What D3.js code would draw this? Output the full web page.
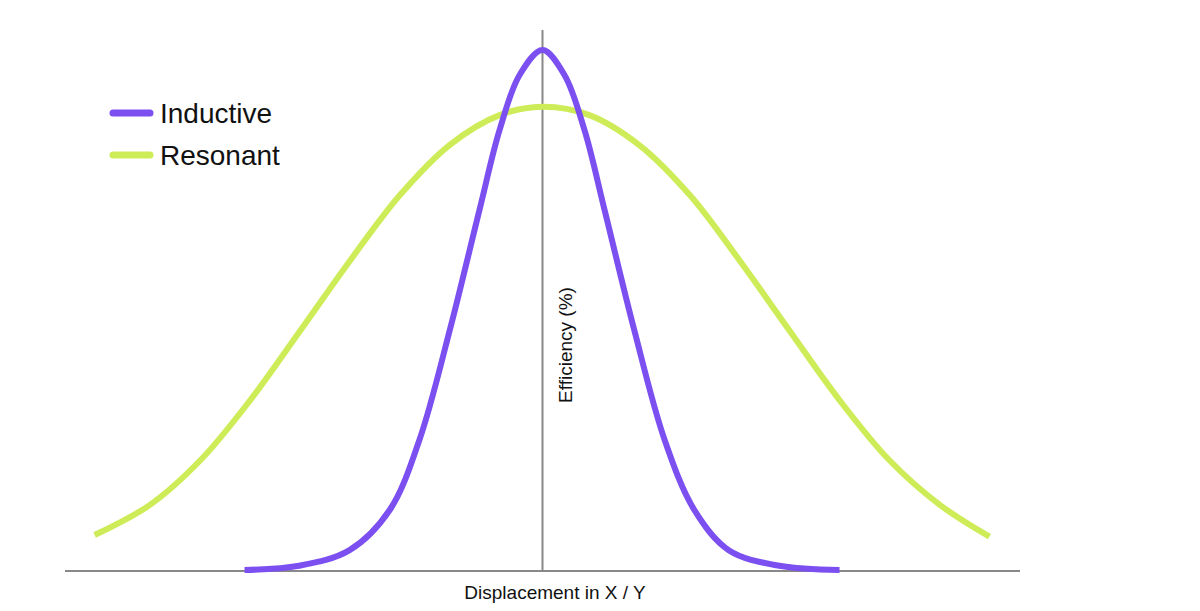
<!DOCTYPE html><html><head><script src="https://cdn.jsdelivr.net/npm/d3@7"></script>
<style>body{margin:0;background:#fff}</style></head><body><svg width="1200" height="611"></svg><script>
const indX=[-3.12,-2.55,-2.02,-1.60,-1.29,-0.97,-0.66,-0.45,-0.24,0,0.23,0.44,0.65,0.96,1.28,1.59,1.95,2.48,3.11];
const indY=[0.2,1.0,4.0,11.7,25.1,46.3,69.3,84.6,95.2,100,95.2,84.6,69.3,46.3,25.1,11.7,4.0,1.0,0.2];
const resX=[-4.69,-4.11,-3.58,-3.06,-2.53,-2.01,-1.49,-0.97,-0.45,0,0.49,1.01,1.54,2.06,2.58,3.11,3.63,4.16,4.68];
const resY=[6.9,12.7,21.3,32.8,46.3,59.7,72.2,81.8,87.5,89.1,87.5,81.8,72.2,59.7,46.3,32.8,21.3,12.7,6.6];
const series=[{name:"Inductive",xs:indX,ys:indY,color:"#7b4ff0"},{name:"Resonant",xs:resX,ys:resY,color:"#cdec58"}];
const svg=d3.select("svg");
const x=d3.scaleLinear().domain([-5,5]).range([65,1020]);
const y=d3.scaleLinear().domain([0,100]).range([571,50]);
svg.append("line").attr("x1",x(-5)).attr("x2",x(5)).attr("y1",y(0)).attr("y2",y(0)).attr("stroke","#888").attr("stroke-width",2);
svg.append("line").attr("x1",x(0)).attr("x2",x(0)).attr("y1",y(0)).attr("y2",30).attr("stroke","#888").attr("stroke-width",2);
const line=d3.line().x(d=>x(d[0])).y(d=>y(d[1])).curve(d3.curveCatmullRom);
[...series].reverse().forEach(s=>{
 svg.append("path").attr("d",line(s.xs.map((v,i)=>[v,s.ys[i]]))).attr("fill","none").attr("stroke",s.color).attr("stroke-width",6);
});
svg.append("text").attr("transform","translate(572,345) rotate(-90)").attr("text-anchor","middle").attr("font-family","Liberation Sans, Arial").attr("font-size",19).attr("fill","#111").text("Efficiency (%)");
svg.append("text").attr("x",555).attr("y",599).attr("text-anchor","middle").attr("font-family","Liberation Sans, Arial").attr("font-size",19).attr("fill","#111").text("Displacement in X / Y");
series.forEach((s,i)=>{
 const yy=113+i*42;
 svg.append("line").attr("x1",113).attr("x2",150).attr("y1",yy).attr("y2",yy).attr("stroke",s.color).attr("stroke-width",7).attr("stroke-linecap","round");
 svg.append("text").attr("x",160).attr("y",yy+10).attr("font-family","Liberation Sans, Arial").attr("font-size",28).attr("fill","#111").text(s.name);
});
</script></body></html>
